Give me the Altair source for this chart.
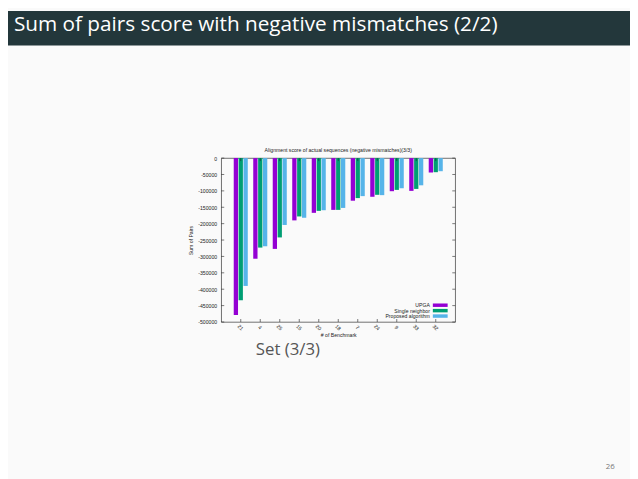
import altair as alt
import pandas as pd

# ---- data ----
benchmarks = ["21", "4", "25", "15", "20", "18", "7", "24", "9", "33", "32"]
series = ["UPGA", "Single neighbor", "Proposed algorithm"]
upga = [-479000, -307000, -277000, -190000, -167000, -158000, -130000, -118000, -101000, -100000, -44000]
single_neighbor = [-434000, -273000, -242000, -178000, -161000, -158000, -122000, -112000, -97000, -94000, -43000]
proposed = [-390000, -269000, -204000, -182000, -159000, -152000, -116000, -113000, -92000, -83000, -40000]
colors = ["#9400D3", "#009E73", "#56B4E9"]
y_ticks = [0, -50000, -100000, -150000, -200000, -250000, -300000, -350000, -400000, -450000, -500000]

chart_title = "Alignment score of actual sequences (negative mismatches)(3/3)"
x_title = "# of Benchmark"
y_title = "Sum of Pairs"
slide_title = "Sum of pairs score with negative mismatches (2/2)"
caption = "Set (3/3)"
page_number = "26"

rows = []
for s, vals in zip(series, [upga, single_neighbor, proposed]):
    for b, v in zip(benchmarks, vals):
        rows.append({"bench": b, "series": s, "score": v})
df = pd.DataFrame(rows)
ytick_df = pd.DataFrame({"v": y_ticks})
xtick_df = pd.DataFrame({"bench": benchmarks})
legend_df = pd.DataFrame({"series": series})

W, H = 237, 166
FONT = "Liberation Sans"
FS = 5.2
TXT = "#222222"

x_scale = alt.Scale(domain=benchmarks, paddingInner=0.28, paddingOuter=0.64)
y_scale = alt.Scale(domain=[-500000, 0], nice=False)
color_scale = alt.Scale(domain=series, range=colors)

x_axis = alt.Axis(title=x_title, labelAngle=45, labelAlign="center", labelBaseline="middle",
                  labelPadding=5, domain=False, ticks=False, labelFont=FONT, labelFontSize=FS,
                  labelColor=TXT, titleFont=FONT, titleFontSize=FS, titleFontWeight="normal",
                  titleColor=TXT, titleX=118.5, titleY=12.5, titleBaseline="middle",
                  titleAlign="center")

bars = alt.Chart(df).mark_bar().encode(
    x=alt.X("bench:N", scale=x_scale, sort=benchmarks, axis=x_axis),
    xOffset=alt.XOffset("series:N", sort=series, scale=alt.Scale(domain=series, paddingInner=0.12)),
    y=alt.Y("score:Q", scale=y_scale,
            axis=alt.Axis(values=y_ticks, title=y_title, domain=False, ticks=False, grid=False,
                          labelPadding=4.7, labelFont=FONT, labelFontSize=FS, labelColor=TXT,
                          labelExpr="datum.value == 0 ? '0' : '-' + format(abs(datum.value), 'd')",
                          titleFont=FONT, titleFontSize=FS, titleFontWeight="normal", titleColor=TXT,
                          titleX=-31.5, titleY=83, titleAlign="center", titleBaseline="middle")),
    color=alt.Color("series:N", scale=color_scale, legend=None),
)

ytick_l = alt.Chart(ytick_df).mark_rule(color=TXT, strokeWidth=0.6).encode(
    y=alt.Y("v:Q", scale=y_scale, axis=None), x=alt.value(0), x2=alt.value(3))
ytick_r = alt.Chart(ytick_df).mark_rule(color=TXT, strokeWidth=0.6).encode(
    y=alt.Y("v:Q", scale=y_scale, axis=None), x=alt.value(W - 3), x2=alt.value(W))
xtick_b = alt.Chart(xtick_df).mark_rule(color=TXT, strokeWidth=0.6).encode(
    x=alt.X("bench:N", scale=x_scale, sort=benchmarks, axis=x_axis), y=alt.value(H - 3), y2=alt.value(H))
xtick_t = alt.Chart(xtick_df).mark_rule(color=TXT, strokeWidth=0.6).encode(
    x=alt.X("bench:N", scale=x_scale, sort=benchmarks, axis=x_axis), y=alt.value(0), y2=alt.value(3))

leg_y = alt.Scale(type="point", domain=series, range=[149, 160], padding=0)
legend_sw = alt.Chart(legend_df).mark_rule(strokeWidth=3.5, strokeCap="butt").encode(
    y=alt.Y("series:N", scale=leg_y, axis=None),
    x=alt.value(214.3), x2=alt.value(229.3),
    color=alt.Color("series:N", scale=color_scale, legend=None))
legend_tx = alt.Chart(legend_df).mark_text(align="right", baseline="middle", font=FONT,
                                           fontSize=FS, color=TXT).encode(
    y=alt.Y("series:N", scale=leg_y, axis=None), x=alt.value(211.3), text="series:N")

title_text = alt.Chart(pd.DataFrame({"t": [chart_title]})).mark_text(
    align="center", baseline="alphabetic", font=FONT, fontSize=FS, color=TXT).encode(
    x=alt.value(W / 2), y=alt.value(-6.5), text="t:N")

hdr_df = pd.DataFrame({"t": [slide_title]})
header_rect = alt.Chart(hdr_df).mark_rect(color="#23373B").encode(
    x=alt.value(-216), x2=alt.value(414), y=alt.value(-149), y2=alt.value(-114))
header_text = alt.Chart(hdr_df).mark_text(align="left", baseline="alphabetic", font="Open Sans",
                                          fontSize=21, color="#FFFFFF").encode(
    x=alt.value(-210), y=alt.value(-128.7), text="t:N")
caption_text = alt.Chart(pd.DataFrame({"t": [caption]})).mark_text(
    align="left", baseline="alphabetic", font="Open Sans", fontSize=17, color="#555555").encode(
    x=alt.value(35), y=alt.value(199), text="t:N")
page_text = alt.Chart(pd.DataFrame({"t": [page_number]})).mark_text(
    align="center", baseline="alphabetic", font="Open Sans", fontSize=8, color="#777777").encode(
    x=alt.value(394), y=alt.value(315), text="t:N")

chart = alt.layer(
    header_rect, header_text, bars, ytick_l, ytick_r, xtick_b, xtick_t,
    legend_sw, legend_tx, title_text, caption_text, page_text
).resolve_scale(y="independent").properties(
    width=W, height=H,
    autosize="none",
    padding={"left": 216, "top": 149, "right": 177, "bottom": 156},
    background="#FAFAFA",
).configure_view(stroke="#333333", strokeWidth=0.7)

chart.save("out.html", embed_options={"renderer": "svg", "actions": False})
